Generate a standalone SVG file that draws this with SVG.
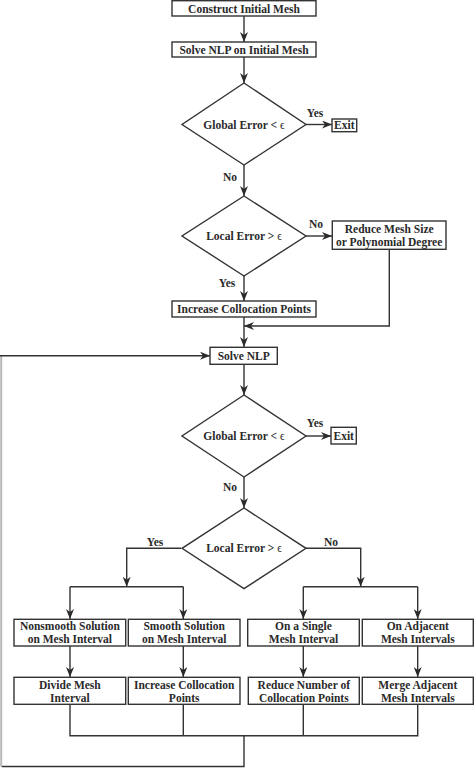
<svg xmlns="http://www.w3.org/2000/svg" width="474" height="768" viewBox="0 0 474 768">
<defs>
<marker id="ah" viewBox="0 0 10 8" refX="10" refY="4" markerWidth="10" markerHeight="8" markerUnits="userSpaceOnUse" orient="auto">
<path d="M0,0 L10,4 L0,8 L3,4 Z" fill="#2a2a2a"/>
</marker>
<style>
rect.b{fill:#fff;stroke:#333;stroke-width:1.4}
polygon.d{fill:#fff;stroke:#333;stroke-width:1.4}
text{font-family:"Liberation Serif","DejaVu Serif",serif;font-weight:bold;font-size:11.5px;fill:#2a2a2a;text-anchor:middle}
.c path,.c line{fill:none;stroke:#333;stroke-width:1.4}
.c .a{marker-end:url(#ah)}
.c .g{stroke:#b8b8b8;stroke-width:2}
.eps{font-weight:normal}
</style>
</defs>
<rect width="474" height="768" fill="#fff"/>
<g class="c" id="connectors">
<line class="a" x1="244" y1="16" x2="244" y2="42"/>
<line class="a" x1="244" y1="57" x2="244" y2="83"/>
<line class="a" x1="306" y1="124.5" x2="332" y2="124.5"/>
<line class="a" x1="244" y1="165" x2="244" y2="196"/>
<line class="a" x1="306" y1="236" x2="332" y2="236"/>
<path class="a" d="M389.3,249 V326 H244"/>
<line class="a" x1="244" y1="276" x2="244" y2="301"/>
<line class="a" x1="244" y1="317" x2="244" y2="347"/>
<path d="M244,736 V766.5 H1.5"/>
<path class="g" d="M1.2,766.5 V355.7"/>
<path class="a" d="M0,355.7 H210"/>
<line class="a" x1="244" y1="364" x2="244" y2="395"/>
<line class="a" x1="306" y1="436" x2="331" y2="436"/>
<line class="a" x1="244" y1="477" x2="244" y2="508"/>
<path class="a" d="M181,548.3 H126.7 V586.7"/>
<path d="M70,586.7 H183.3"/>
<line class="a" x1="70" y1="586.7" x2="70" y2="619"/>
<line class="a" x1="183.3" y1="586.7" x2="183.3" y2="619"/>
<path class="a" d="M306,548.3 H360.7 V586.7"/>
<path d="M303.3,586.7 H417.7"/>
<line class="a" x1="303.3" y1="586.7" x2="303.3" y2="619"/>
<line class="a" x1="417.7" y1="586.7" x2="417.7" y2="619"/>
<line class="a" x1="70" y1="646" x2="70" y2="677"/>
<line class="a" x1="183.3" y1="646" x2="183.3" y2="677"/>
<line class="a" x1="303.3" y1="646" x2="303.3" y2="677"/>
<line class="a" x1="417.7" y1="646" x2="417.7" y2="677"/>
<path d="M70,704 V735.7 H417.7 V704 M183.3,704 V735.7 M303.3,704 V735.7"/>
<text x="315" y="117">Yes</text>
<text x="230" y="180.5">No</text>
<text x="316" y="228">No</text>
<text x="227" y="287">Yes</text>
<text x="315" y="427">Yes</text>
<text x="230" y="491">No</text>
<text x="155" y="545.5">Yes</text>
<text x="331" y="545.5">No</text>
</g>
<g id="construct"><rect class="b" x="172" y="0.7" width="144" height="15.3"/><text x="244" y="12.5">Construct Initial Mesh</text></g>
<g id="solveInit"><rect class="b" x="172" y="42" width="144" height="15"/><text x="244" y="53.5">Solve NLP on Initial Mesh</text></g>
<g id="global1"><polygon class="d" points="244,83 306,124.5 244,165 182,124.5"/><text x="244" y="128.5">Global Error &lt; <tspan class="eps">ϵ</tspan></text></g>
<g id="exit1"><rect class="b" x="332" y="119" width="24.7" height="12.7"/><text x="344.3" y="129.3">Exit</text></g>
<g id="local1"><polygon class="d" points="244,196 306,236 244,276 182,236"/><text x="244" y="240">Local Error &gt; <tspan class="eps">ϵ</tspan></text></g>
<g id="reduceMesh"><rect class="b" x="332.3" y="221" width="113.7" height="28.3"/><text x="389.2" y="233">Reduce Mesh Size</text><text x="389.2" y="245.5">or Polynomial Degree</text></g>
<g id="increase1"><rect class="b" x="172" y="301" width="144" height="16"/><text x="244" y="313">Increase Collocation Points</text></g>
<g id="solveNLP"><rect class="b" x="210" y="347.3" width="67.3" height="17"/><text x="243.7" y="360">Solve NLP</text></g>
<g id="global2"><polygon class="d" points="244,395 306,436 244,477 182,436"/><text x="244" y="440">Global Error &lt; <tspan class="eps">ϵ</tspan></text></g>
<g id="exit2"><rect class="b" x="331" y="427.3" width="25.3" height="16.7"/><text x="343.7" y="439.5">Exit</text></g>
<g id="local2"><polygon class="d" points="244,508 306,548.3 244,588.7 182,548.3"/><text x="244" y="552.3">Local Error &gt; <tspan class="eps">ϵ</tspan></text></g>
<g id="nonsmooth"><rect class="b" x="14" y="619.3" width="111.7" height="26.7"/><text x="69.9" y="630">Nonsmooth Solution</text><text x="69.9" y="643">on Mesh Interval</text></g>
<g id="smooth"><rect class="b" x="128.3" y="619.3" width="111.7" height="26.7"/><text x="184.2" y="630">Smooth Solution</text><text x="184.2" y="643">on Mesh Interval</text></g>
<g id="single"><rect class="b" x="247.7" y="619.3" width="111.6" height="26.7"/><text x="303.5" y="630">On a Single</text><text x="303.5" y="643">Mesh Interval</text></g>
<g id="adjacent"><rect class="b" x="362.3" y="619.3" width="111" height="26.7"/><text x="417.8" y="630">On Adjacent</text><text x="417.8" y="643">Mesh Intervals</text></g>
<g id="divide"><rect class="b" x="14" y="677.3" width="111.7" height="27"/><text x="69.9" y="689.3">Divide Mesh</text><text x="69.9" y="701.8">Interval</text></g>
<g id="increase2"><rect class="b" x="128.3" y="677.3" width="111.7" height="27"/><text x="184.2" y="689.3">Increase Collocation</text><text x="184.2" y="701.8">Points</text></g>
<g id="reduceNum"><rect class="b" x="248.3" y="677.3" width="111" height="27"/><text x="303.8" y="689.3">Reduce Number of</text><text x="303.8" y="701.8">Collocation Points</text></g>
<g id="merge"><rect class="b" x="362.3" y="677.3" width="111" height="27"/><text x="417.8" y="689.3">Merge Adjacent</text><text x="417.8" y="701.8">Mesh Intervals</text></g>
</svg>
